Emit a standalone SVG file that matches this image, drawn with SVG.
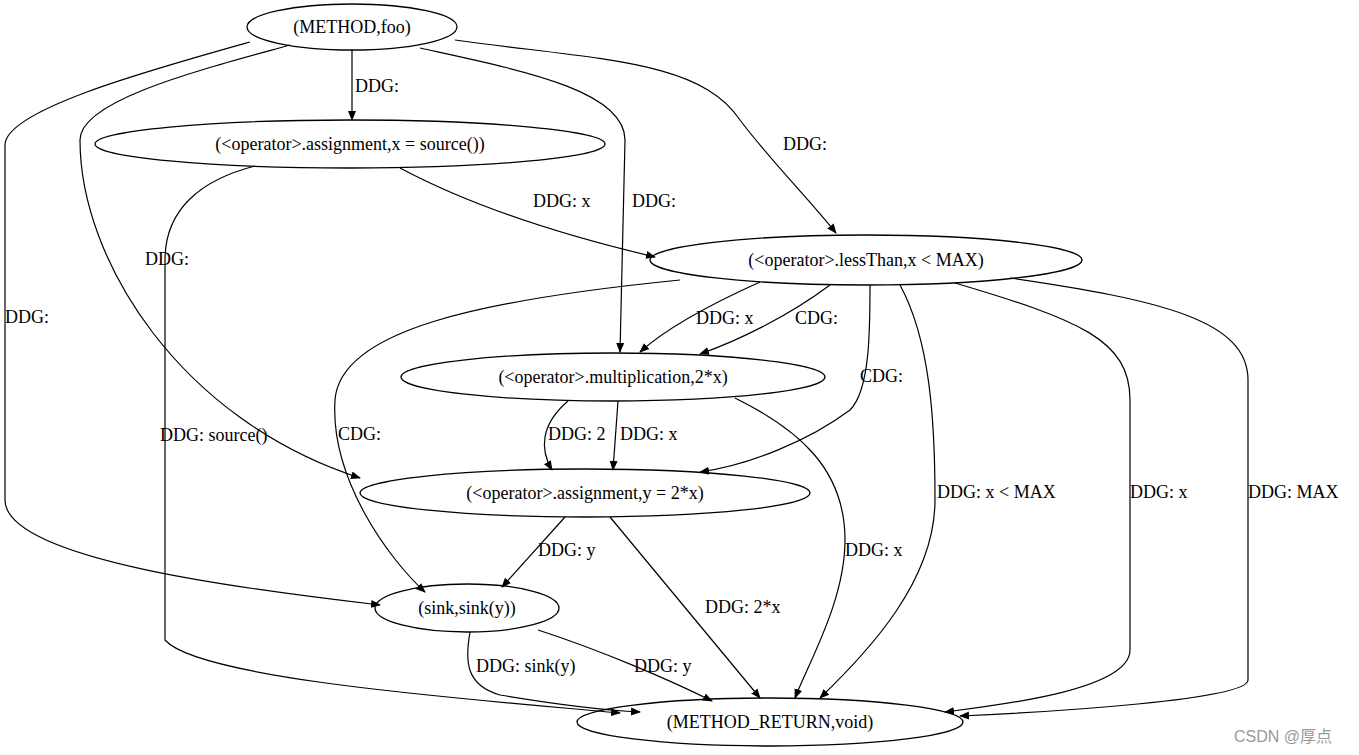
<svg xmlns="http://www.w3.org/2000/svg" width="1359" height="755" viewBox="0 0 1359 755">
<style>
.n ellipse{fill:none;stroke:#000;stroke-width:1.3}
text{font-family:"Liberation Serif",serif;font-size:18px;fill:#000}
.n text{text-anchor:middle}
.e path{fill:none;stroke:#000;stroke-width:1.2;marker-end:url(#a)}
</style>
<defs><marker id="a" viewBox="0 0 10 10" refX="9" refY="5" markerWidth="10" markerHeight="10" markerUnits="userSpaceOnUse" orient="auto"><path d="M0,1L10,5L0,9z" fill="#000"/></marker></defs>
<rect width="1359" height="755" fill="#fff"/>
<g class="e">
<path d="M352,50L352,120"/>
<path d="M455,40C600,60 700,60 740,120C770,160 810,200 836,233"/>
<path d="M420,48C520,70 625,90 625,140L620,352"/>
<path d="M290,45C200,70 80,100 80,140C80,260 180,420 360,478"/>
<path d="M250,42C150,70 5,110 5,145L5,500C5,560 250,590 380,605"/>
<path d="M400,168C460,200 540,230 655,257"/>
<path d="M255,166C200,180 165,210 165,260L165,640C200,680 480,700 620,713"/>
<path d="M760,282C720,300 670,325 640,352"/>
<path d="M830,285C790,315 740,340 700,354"/>
<path d="M870,285C870,330 870,390 850,410C810,440 750,465 700,472"/>
<path d="M680,280C480,300 340,330 335,400C330,480 390,560 425,592"/>
<path d="M900,285C930,340 935,420 935,500C935,580 870,650 820,698"/>
<path d="M955,283C1080,320 1130,340 1130,400L1130,650C1130,690 1000,705 945,712"/>
<path d="M1010,278C1160,300 1248,320 1248,380L1248,680C1248,700 1050,712 960,716"/>
<path d="M568,401C540,425 540,450 552,470"/>
<path d="M618,401L613,470"/>
<path d="M735,398C800,430 845,470 845,540C845,600 810,660 795,698"/>
<path d="M565,517L502,587"/>
<path d="M610,517L760,698"/>
<path d="M470,632C465,660 465,685 500,695C560,705 600,710 640,712"/>
<path d="M538,630C600,650 670,680 712,701"/>
</g>
<g class="l">
<text x="355" y="92">DDG:</text>
<text x="783" y="150">DDG:</text>
<text x="632" y="207">DDG:</text>
<text x="533" y="207">DDG: x</text>
<text x="145" y="265">DDG:</text>
<text x="5" y="323">DDG:</text>
<text x="696" y="324">DDG: x</text>
<text x="795" y="324">CDG:</text>
<text x="860" y="382">CDG:</text>
<text x="338" y="440">CDG:</text>
<text x="160" y="441">DDG: source()</text>
<text x="548" y="440">DDG: 2</text>
<text x="620" y="440">DDG: x</text>
<text x="937" y="498">DDG: x &lt; MAX</text>
<text x="1130" y="498">DDG: x</text>
<text x="1248" y="498">DDG: MAX</text>
<text x="538" y="556">DDG: y</text>
<text x="845" y="556">DDG: x</text>
<text x="705" y="613">DDG: 2*x</text>
<text x="476" y="672">DDG: sink(y)</text>
<text x="634" y="672">DDG: y</text>
</g>
<g id="n1" class="n"><ellipse cx="352" cy="27" rx="105" ry="23"/><text x="352" y="33">(METHOD,foo)</text></g>
<g id="n2" class="n"><ellipse cx="350" cy="144" rx="255" ry="24"/><text x="350" y="150">(&lt;operator&gt;.assignment,x = source())</text></g>
<g id="n3" class="n"><ellipse cx="866" cy="260" rx="216" ry="25"/><text x="866" y="266">(&lt;operator&gt;.lessThan,x &lt; MAX)</text></g>
<g id="n4" class="n"><ellipse cx="613" cy="377" rx="212" ry="24"/><text x="613" y="383">(&lt;operator&gt;.multiplication,2*x)</text></g>
<g id="n5" class="n"><ellipse cx="585" cy="493" rx="225" ry="24"/><text x="585" y="499">(&lt;operator&gt;.assignment,y = 2*x)</text></g>
<g id="n6" class="n"><ellipse cx="467" cy="608" rx="92" ry="24"/><text x="467" y="614">(sink,sink(y))</text></g>
<g id="n7" class="n"><ellipse cx="770" cy="722" rx="193" ry="24"/><text x="770" y="728">(METHOD_RETURN,void)</text></g>
<text x="1234" y="742" style="font-family:'Liberation Sans','Noto Sans CJK SC',sans-serif;font-size:16px;fill:#999">CSDN @厚点</text>
</svg>
